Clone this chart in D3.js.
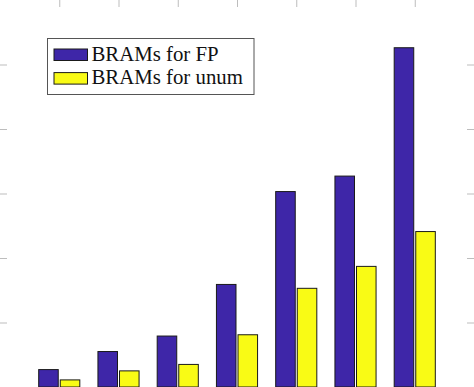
<!DOCTYPE html>
<html>
<head>
<meta charset="utf-8">
<script src="https://cdn.jsdelivr.net/npm/d3@7"></script>
<style>
  body { margin: 0; background: #fff; }
  svg { display: block; }
</style>
</head>
<body>
<div id="chart"></div>
<script>
// data (tick labels are cropped away, units are relative)
var categories = [1, 2, 3, 4, 5, 6, 7];
var bramsFP = [27, 55, 79, 159, 303, 327, 526];
var bramsUnum = [11, 25, 35, 81, 153, 187, 241];
var seriesNames = ["BRAMs for FP", "BRAMs for unum"];
var xTicks = [1, 2, 3, 4, 5, 6, 7];
var yTicks = [100, 200, 300, 400, 500];

var width = 474,
    height = 387;

var svg = d3.select("#chart")
    .append("svg")
    .attr("width", width)
    .attr("height", height);

var x = d3.scaleLinear()
    .domain([0, 8])
    .range([0, width]);

var y = d3.scaleLinear()
    .domain([0, 600])
    .range([height, 0]);

var colors = ["rgb(62,38,168)", "rgb(249,251,21)"];
var barW = x(0.33) - x(0);
var gap = x(0.034) - x(0);

// tick marks (inside the box, no labels)
var tickColor = "#bdbdbd";
svg.append("g")
    .attr("transform", "translate(0,0)")
    .call(d3.axisBottom(x).tickValues(xTicks).tickSize(7).tickFormat(""))
    .call(function(g) { g.select(".domain").remove(); });
svg.append("g")
    .attr("transform", "translate(0,0)")
    .call(d3.axisRight(y).tickValues(yTicks).tickSize(7).tickFormat(""))
    .call(function(g) { g.select(".domain").remove(); });
svg.append("g")
    .attr("transform", "translate(" + width + ",0)")
    .call(d3.axisLeft(y).tickValues(yTicks).tickSize(7).tickFormat(""))
    .call(function(g) { g.select(".domain").remove(); });
svg.selectAll(".tick line").attr("stroke", tickColor);

// bars
var data = categories.map(function(c, i) {
    return {cat: c, fp: bramsFP[i], unum: bramsUnum[i]};
});

svg.selectAll(".barFP")
    .data(data)
    .enter().append("rect")
    .attr("class", "barFP")
    .attr("x", function(d) { return x(d.cat) - gap / 2 - barW; })
    .attr("y", function(d) { return y(d.fp); })
    .attr("width", barW)
    .attr("height", function(d) { return y(0) - y(d.fp); })
    .style("fill", colors[0])
    .style("stroke", "#1a1a1a")
    .style("stroke-width", 1);

svg.selectAll(".barUnum")
    .data(data)
    .enter().append("rect")
    .attr("class", "barUnum")
    .attr("x", function(d) { return x(d.cat) + gap / 2; })
    .attr("y", function(d) { return y(d.unum); })
    .attr("width", barW)
    .attr("height", function(d) { return y(0) - y(d.unum); })
    .style("fill", colors[1])
    .style("stroke", "#1a1a1a")
    .style("stroke-width", 1);

// legend
var legend = svg.append("g");
legend.append("rect")
    .attr("x", 47.5)
    .attr("y", 38.5)
    .attr("width", 206.5)
    .attr("height", 56)
    .style("fill", "#fff")
    .style("stroke", "#555")
    .style("stroke-width", 1);

seriesNames.forEach(function(name, i) {
    legend.append("rect")
        .attr("x", 54)
        .attr("y", 49 + i * 23.6)
        .attr("width", 33.5)
        .attr("height", 11.5)
        .style("fill", colors[i])
        .style("stroke", "#1a1a1a")
        .style("stroke-width", 1);
    legend.append("text")
        .attr("x", 91.5)
        .attr("y", 60.7 + i * 23.6)
        .style("font-family", "'Liberation Serif', serif")
        .style("font-size", "20.8px")
        .style("fill", "#111")
        .text(name);
});
</script>
</body>
</html>
